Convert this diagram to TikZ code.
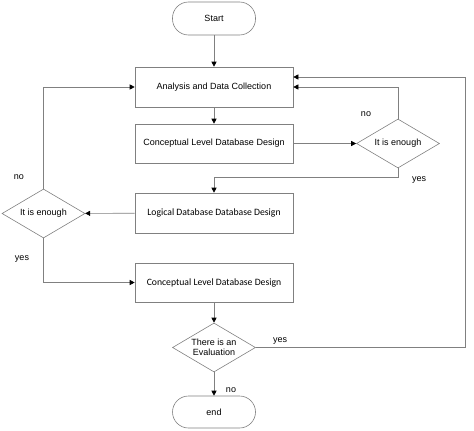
\documentclass[tikz,border=0pt]{standalone}
\usepackage{fontspec}
\setmainfont{Liberation Sans}
\newfontfamily\calfont{Carlito}
\usetikzlibrary{shapes.geometric,arrows.meta}
\begin{document}
\begin{tikzpicture}[x=1pt,y=-1pt,
  every node/.style={font=\fontsize{9}{10.5}\selectfont, text=black},
  ln/.style={draw=gray, line width=0.6pt},
  arr/.style={ln, -{Triangle[length=5pt,width=5pt,color=black,fill=black]}},
  term/.style={ln, rectangle, rounded corners=16pt, minimum width=83pt, minimum height=33pt, inner sep=0pt},
  procbox/.style={ln, rectangle, minimum width=158pt, minimum height=40pt, inner sep=0pt},
  calbox/.style={procbox, font=\calfont\fontsize{9.7}{11}\selectfont},
  dec/.style={ln, diamond, aspect=1.69, minimum width=83pt, minimum height=49pt, inner sep=0pt, align=center},
  lab/.style={inner sep=0pt}
]
\useasboundingbox (0,0) rectangle (474,431);
\node[term] (start) at (214,18.5) {Start};
\node[procbox] (ana) at (214,87) {Analysis and Data Collection};
\node[procbox, minimum height=39pt] (con1) at (214,143.5) {Conceptual Level Database Design};
\node[dec] (d1) at (398,143.5) {It is enough};
\node[calbox] (log) at (214,213) {Logical Database Database Design};
\node[dec] (d2) at (43.5,213.5) {It is enough};
\node[calbox, minimum height=39pt] (con2) at (214,282.5) {Conceptual Level Database Design};
\node[dec] (ev) at (214,347.5) {There is an\\Evaluation};
\node[term, minimum height=32pt] (end) at (214,412) {end};
\coordinate (rt) at (465,77);

\draw[arr] (start) -- (ana);
\draw[arr] (ana) -- (con1);
\draw[arr] (con1) -- (d1);
\draw[arr] (d1.north) |- (ana.east);
\draw[arr] (d1.south) -- ++(0,9) -| (log.north);
\draw[arr] (log) -- (d2);
\draw[arr] (d2.north) |- (ana.west);
\draw[arr] (d2.south) |- (con2.west);
\draw[arr] (con2) -- (ev);
\draw[arr] (ev.east) -| (rt) -- (rt -| ana.east);
\draw[arr] (ev) -- (end);

\node[lab] (l1) at (366,114) {no};
\node[lab] (l2) at (419,180) {yes};
\node[lab] (l3) at (19,177) {no};
\node[lab] (l4) at (22,259) {yes};
\node[lab] (l5) at (280,341) {yes};
\node[lab] (l6) at (231,390) {no};
\end{tikzpicture}
\end{document}
